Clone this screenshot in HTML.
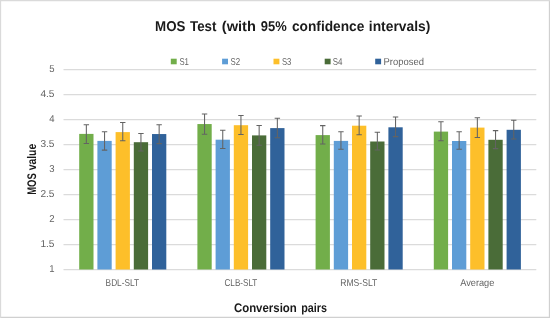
<!DOCTYPE html>
<html lang="en"><head><meta charset="utf-8"><title>MOS Test</title>
<style>
html,body{margin:0;padding:0;background:#fff;}
body{width:550px;height:318px;overflow:hidden;}
svg{display:block;}
text{font-family:"Liberation Sans",sans-serif;text-rendering:geometricPrecision;}
.b{font-weight:bold;fill:#1a1a1a;}
.g{fill:#636363;}
</style></head><body>
<svg width="550" height="318" viewBox="0 0 550 318">
<rect x="0" y="0" width="550" height="318" fill="#fff"/>
<path d="M0 317.5H550M549.5 0V318" fill="none" stroke="#d0d0d0" stroke-width="1.3"/>
<path d="M0 0.5H550M0.5 0V318" fill="none" stroke="#dadada" stroke-width="1.3"/>
<line x1="63.5" x2="536.3" y1="69.6" y2="69.6" stroke="#dbdbdb" stroke-width="1.1"/>
<line x1="63.5" x2="536.3" y1="94.6" y2="94.6" stroke="#dbdbdb" stroke-width="1.1"/>
<line x1="63.5" x2="536.3" y1="119.6" y2="119.6" stroke="#dbdbdb" stroke-width="1.1"/>
<line x1="63.5" x2="536.3" y1="144.6" y2="144.6" stroke="#dbdbdb" stroke-width="1.1"/>
<line x1="63.5" x2="536.3" y1="169.6" y2="169.6" stroke="#dbdbdb" stroke-width="1.1"/>
<line x1="63.5" x2="536.3" y1="194.6" y2="194.6" stroke="#dbdbdb" stroke-width="1.1"/>
<line x1="63.5" x2="536.3" y1="219.6" y2="219.6" stroke="#dbdbdb" stroke-width="1.1"/>
<line x1="63.5" x2="536.3" y1="244.6" y2="244.6" stroke="#dbdbdb" stroke-width="1.1"/>
<line x1="63.5" x2="536.3" y1="269.6" y2="269.6" stroke="#dbdbdb" stroke-width="1.1"/>
<rect x="79.20" y="133.90" width="14.3" height="135.60" fill="#72AE4A"/>
<rect x="97.40" y="140.90" width="14.3" height="128.60" fill="#5E9DD6"/>
<rect x="115.60" y="132.10" width="14.3" height="137.40" fill="#FDBF2A"/>
<rect x="133.80" y="142.20" width="14.3" height="127.30" fill="#4A6C38"/>
<rect x="152.00" y="134.05" width="14.3" height="135.45" fill="#30629A"/>
<rect x="197.40" y="124.05" width="14.3" height="145.45" fill="#72AE4A"/>
<rect x="215.60" y="139.70" width="14.3" height="129.80" fill="#5E9DD6"/>
<rect x="233.80" y="125.20" width="14.3" height="144.30" fill="#FDBF2A"/>
<rect x="252.00" y="135.40" width="14.3" height="134.10" fill="#4A6C38"/>
<rect x="270.20" y="128.10" width="14.3" height="141.40" fill="#30629A"/>
<rect x="315.60" y="135.10" width="14.3" height="134.40" fill="#72AE4A"/>
<rect x="333.80" y="140.90" width="14.3" height="128.60" fill="#5E9DD6"/>
<rect x="352.00" y="125.70" width="14.3" height="143.80" fill="#FDBF2A"/>
<rect x="370.20" y="141.50" width="14.3" height="128.00" fill="#4A6C38"/>
<rect x="388.40" y="127.30" width="14.3" height="142.20" fill="#30629A"/>
<rect x="433.80" y="131.60" width="14.3" height="137.90" fill="#72AE4A"/>
<rect x="452.00" y="141.00" width="14.3" height="128.50" fill="#5E9DD6"/>
<rect x="470.20" y="127.60" width="14.3" height="141.90" fill="#FDBF2A"/>
<rect x="488.40" y="139.80" width="14.3" height="129.70" fill="#4A6C38"/>
<rect x="506.60" y="129.80" width="14.3" height="139.70" fill="#30629A"/>
<path d="M83.65 124.70H89.05M86.35 124.70V143.40M83.65 143.40H89.05" stroke="#636363" stroke-width="1.05" fill="none"/>
<path d="M101.85 131.70H107.25M104.55 131.70V150.10M101.85 150.10H107.25" stroke="#636363" stroke-width="1.05" fill="none"/>
<path d="M120.05 122.50H125.45M122.75 122.50V140.70M120.05 140.70H125.45" stroke="#636363" stroke-width="1.05" fill="none"/>
<path d="M138.25 133.50H143.65M140.95 133.50V150.90M138.25 150.90H143.65" stroke="#636363" stroke-width="1.05" fill="none"/>
<path d="M156.45 124.70H161.85M159.15 124.70V143.60M156.45 143.60H161.85" stroke="#636363" stroke-width="1.05" fill="none"/>
<path d="M201.85 114.00H207.25M204.55 114.00V134.20M201.85 134.20H207.25" stroke="#636363" stroke-width="1.05" fill="none"/>
<path d="M220.05 130.30H225.45M222.75 130.30V148.50M220.05 148.50H225.45" stroke="#636363" stroke-width="1.05" fill="none"/>
<path d="M238.25 115.50H243.65M240.95 115.50V134.40M238.25 134.40H243.65" stroke="#636363" stroke-width="1.05" fill="none"/>
<path d="M256.45 125.50H261.85M259.15 125.50V145.30M256.45 145.30H261.85" stroke="#636363" stroke-width="1.05" fill="none"/>
<path d="M274.65 118.20H280.05M277.35 118.20V137.80M274.65 137.80H280.05" stroke="#636363" stroke-width="1.05" fill="none"/>
<path d="M320.05 125.60H325.45M322.75 125.60V143.90M320.05 143.90H325.45" stroke="#636363" stroke-width="1.05" fill="none"/>
<path d="M338.25 131.80H343.65M340.95 131.80V149.30M338.25 149.30H343.65" stroke="#636363" stroke-width="1.05" fill="none"/>
<path d="M356.45 116.00H361.85M359.15 116.00V134.80M356.45 134.80H361.85" stroke="#636363" stroke-width="1.05" fill="none"/>
<path d="M374.65 132.30H380.05M377.35 132.30V150.00M374.65 150.00H380.05" stroke="#636363" stroke-width="1.05" fill="none"/>
<path d="M392.85 116.90H398.25M395.55 116.90V136.60M392.85 136.60H398.25" stroke="#636363" stroke-width="1.05" fill="none"/>
<path d="M438.25 121.80H443.65M440.95 121.80V140.70M438.25 140.70H443.65" stroke="#636363" stroke-width="1.05" fill="none"/>
<path d="M456.45 131.80H461.85M459.15 131.80V149.30M456.45 149.30H461.85" stroke="#636363" stroke-width="1.05" fill="none"/>
<path d="M474.65 117.80H480.05M477.35 117.80V137.50M474.65 137.50H480.05" stroke="#636363" stroke-width="1.05" fill="none"/>
<path d="M492.85 130.60H498.25M495.55 130.60V148.60M492.85 148.60H498.25" stroke="#636363" stroke-width="1.05" fill="none"/>
<path d="M511.05 120.20H516.45M513.75 120.20V138.90M511.05 138.90H516.45" stroke="#636363" stroke-width="1.05" fill="none"/>
<text class="b" x="155.1" y="31.1" font-size="14.2" textLength="30.3" lengthAdjust="spacingAndGlyphs">MOS</text>
<text class="b" x="190" y="31.1" font-size="14.2" textLength="26.4" lengthAdjust="spacingAndGlyphs">Test</text>
<text class="b" x="221.8" y="31.1" font-size="14.2" textLength="34.1" lengthAdjust="spacingAndGlyphs">(with</text>
<text class="b" x="260.8" y="31.1" font-size="14.2" textLength="25.9" lengthAdjust="spacingAndGlyphs">95%</text>
<text class="b" x="291.9" y="31.1" font-size="14.2" textLength="72.5" lengthAdjust="spacingAndGlyphs">confidence</text>
<text class="b" x="368.8" y="31.1" font-size="14.2" textLength="61.5" lengthAdjust="spacingAndGlyphs">intervals)</text>
<rect x="170.8" y="58.7" width="5.9" height="5.6" fill="#72AE4A"/>
<text class="g" x="179.4" y="64.5" font-size="10.0" textLength="9.5" lengthAdjust="spacingAndGlyphs">S1</text>
<rect x="222.1" y="58.7" width="5.9" height="5.6" fill="#5E9DD6"/>
<text class="g" x="230.6" y="64.5" font-size="10.0" textLength="9.6" lengthAdjust="spacingAndGlyphs">S2</text>
<rect x="273.5" y="58.7" width="5.9" height="5.6" fill="#FDBF2A"/>
<text class="g" x="281.9" y="64.5" font-size="10.0" textLength="9.4" lengthAdjust="spacingAndGlyphs">S3</text>
<rect x="324.7" y="58.7" width="5.9" height="5.6" fill="#4A6C38"/>
<text class="g" x="332.8" y="64.5" font-size="10.0" textLength="9.7" lengthAdjust="spacingAndGlyphs">S4</text>
<rect x="375.2" y="58.7" width="5.9" height="5.6" fill="#30629A"/>
<text class="g" x="383.5" y="64.5" font-size="10.0" textLength="40.4" lengthAdjust="spacingAndGlyphs">Proposed</text>
<text class="g" x="49.2" y="72.4" font-size="10.0" textLength="5.3" lengthAdjust="spacingAndGlyphs">5</text>
<text class="g" x="40.4" y="97.4" font-size="10.0" textLength="14.1" lengthAdjust="spacingAndGlyphs">4.5</text>
<text class="g" x="49.2" y="122.4" font-size="10.0" textLength="5.3" lengthAdjust="spacingAndGlyphs">4</text>
<text class="g" x="40.4" y="147.4" font-size="10.0" textLength="14.1" lengthAdjust="spacingAndGlyphs">3.5</text>
<text class="g" x="49.2" y="172.4" font-size="10.0" textLength="5.3" lengthAdjust="spacingAndGlyphs">3</text>
<text class="g" x="40.4" y="197.4" font-size="10.0" textLength="14.1" lengthAdjust="spacingAndGlyphs">2.5</text>
<text class="g" x="49.2" y="222.4" font-size="10.0" textLength="5.3" lengthAdjust="spacingAndGlyphs">2</text>
<text class="g" x="40.4" y="247.4" font-size="10.0" textLength="14.1" lengthAdjust="spacingAndGlyphs">1.5</text>
<text class="g" x="49.2" y="272.4" font-size="10.0" textLength="5.3" lengthAdjust="spacingAndGlyphs">1</text>
<text class="g" x="105.6" y="286.4" font-size="10.0" textLength="33.5" lengthAdjust="spacingAndGlyphs">BDL-SLT</text>
<text class="g" x="224.5" y="286.4" font-size="10.0" textLength="32.8" lengthAdjust="spacingAndGlyphs">CLB-SLT</text>
<text class="g" x="340.2" y="286.4" font-size="10.0" textLength="37.1" lengthAdjust="spacingAndGlyphs">RMS-SLT</text>
<text class="g" x="460.2" y="286.4" font-size="10.0" textLength="34.2" lengthAdjust="spacingAndGlyphs">Average</text>
<text class="b" x="233.9" y="311.8" font-size="12.5" textLength="62.9" lengthAdjust="spacingAndGlyphs">Conversion</text>
<text class="b" x="301.2" y="311.8" font-size="12.5" textLength="25.8" lengthAdjust="spacingAndGlyphs">pairs</text>
<g transform="translate(35.9 194.8) rotate(-90)"><text class="b" x="0" y="0" font-size="12.5" textLength="21.5" lengthAdjust="spacingAndGlyphs">MOS</text><text class="b" x="24.5" y="0" font-size="12.5" textLength="26.5" lengthAdjust="spacingAndGlyphs">value</text></g>
</svg>
</body></html>
